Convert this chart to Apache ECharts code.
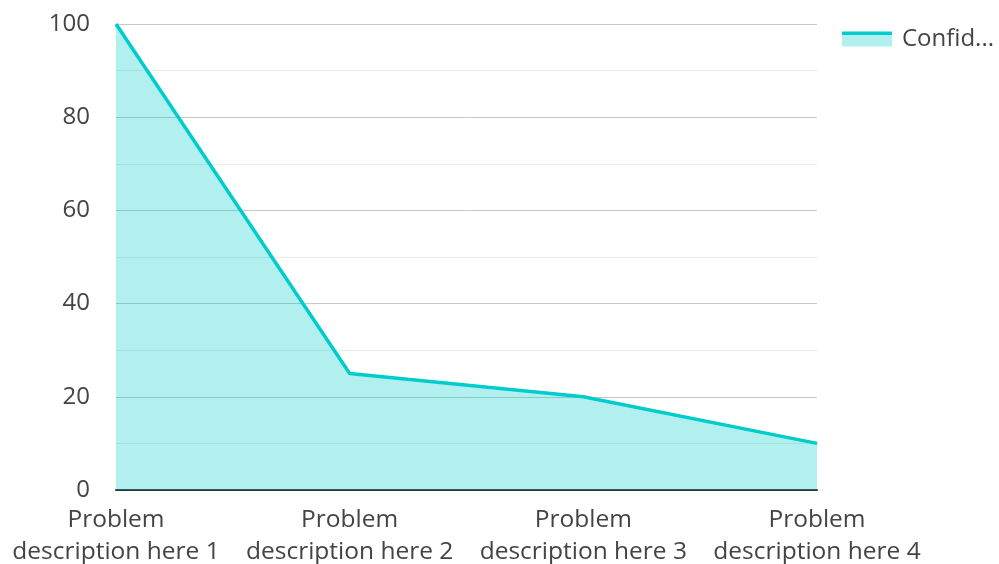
<!DOCTYPE html>
<html><head><meta charset="utf-8">
<script src="https://cdn.jsdelivr.net/npm/echarts@6/dist/echarts.min.js"></script>
<style>html,body{margin:0;padding:0;background:#fff}#c{width:999px;height:564px}</style>
</head><body><div id="c"></div>
<script>
const categories = ['Problem\ndescription here 1','Problem\ndescription here 2','Problem\ndescription here 3','Problem\ndescription here 4'];
const seriesName = 'Confidence level';
const values = [100, 25, 20, 10];
const yTicks = [0, 20, 40, 60, 80, 100];

const chart = echarts.init(document.getElementById('c'));
const font = '"Open Sans", "Noto Sans", sans-serif';
chart.setOption({
  animation: false,
  grid: { left: 116, right: 182, top: 24, bottom: 74, containLabel: false, outerBoundsMode: 'none' },
  legend: {
    left: 837, top: 22, orient: 'vertical',
    itemWidth: 50, itemHeight: 15, itemGap: 10,
    icon: 'rect',
    data: [{ name: seriesName, itemStyle: { color: new echarts.graphic.LinearGradient(0,0,0,1,[
      {offset:0,color:'#00CCCC'},{offset:0.23,color:'#00CCCC'},{offset:0.23,color:'#B2EFEF'},{offset:1,color:'#B2EFEF'}]) } }],
    textStyle: { fontFamily: font, fontSize: 24, color: '#444', width: 96, overflow: 'truncate', ellipsis: '...', padding:[0,0,10,5] }
  },
  xAxis: {
    type: 'category', data: categories, boundaryGap: false,
    axisLine: { lineStyle: { color: '#333', width: 2 } },
    axisTick: { show: false },
    axisLabel: { fontFamily: font, fontSize: 24.5, color: '#444', lineHeight: 32, margin: 14, interval: 0 },
    splitLine: { show: false }
  },
  yAxis: {
    type: 'value', min: yTicks[0], max: yTicks[yTicks.length-1], interval: 20,
    axisLine: { show: false }, axisTick: { show: false },
    axisLabel: { fontFamily: font, fontSize: 24, color: '#444', margin: 26 },
    splitLine: { lineStyle: { color: '#C8C8C8', width: 1 } },
    minorTick: { show: false, splitNumber: 2 },
    minorSplitLine: { show: true, lineStyle: { color: '#EBEBEB', width: 1 } }
  },
  series: [{
    name: seriesName, type: 'line', data: values,
    symbol: 'none', lineStyle: { color: '#00CCCC', width: 3.5 },
    itemStyle: { color: '#00CCCC' },
    areaStyle: { color: '#00CCCC', opacity: 0.3 }
  }]
});
</script></body></html>
